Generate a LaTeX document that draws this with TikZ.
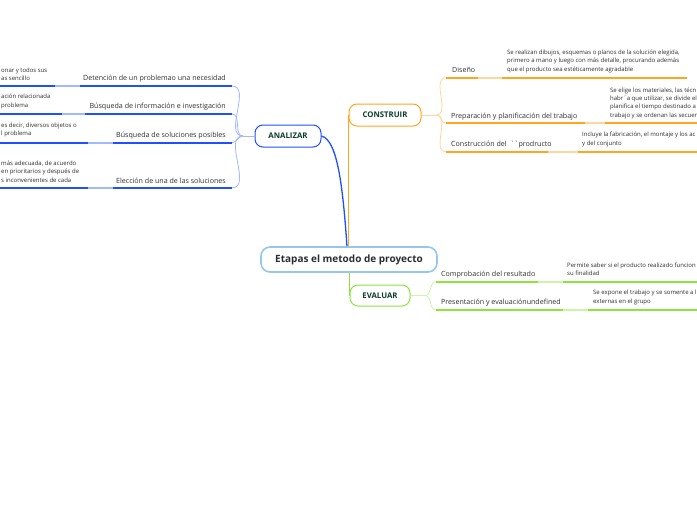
\documentclass[tikz,border=0pt]{standalone}
\usepackage{fontspec}
\setmainfont{Open Sans}
\definecolor{ablue}{RGB}{30,80,255}
\definecolor{ablueL}{RGB}{160,185,255}
\definecolor{corange}{RGB}{255,165,30}
\definecolor{corangeL}{RGB}{255,214,160}
\definecolor{egreen}{RGB}{140,228,60}
\definecolor{egreenL}{RGB}{205,245,165}
\definecolor{rootblue}{RGB}{150,198,235}
\definecolor{maintext}{RGB}{12,60,45}
\definecolor{topictext}{RGB}{45,45,45}

\begin{document}
\begin{tikzpicture}[x=1pt, y=-1pt,
   root/.style={rounded corners=9pt, draw=rootblue, line width=1.6pt, fill=white,
      minimum width=176pt, minimum height=25pt, text=topictext,
      font=\bfseries\fontsize{10}{11}\selectfont},
   mainnode/.style={rounded corners=8pt, line width=1pt, fill=white, minimum height=22pt,
      inner sep=0pt, text=maintext, font=\bfseries\fontsize{7.8}{9}\selectfont},
   topic/.style={inner sep=0pt, text=topictext, font=\fontsize{7.1}{8}\selectfont},
   note/.style={inner sep=0pt, align=left, anchor=south west, text=topictext,
      font=\fontsize{6}{8.4}\selectfont},
   trunk/.style={line width=1.3pt},
   branch/.style={line width=0.8pt},
   bluebar/.style={draw=ablue, line width=1.8pt},
   orangebar/.style={draw=corange, line width=1.8pt},
   greenbar/.style={draw=egreen, line width=1.8pt},
   bluegap/.style={draw=ablueL, line width=1.8pt},
   orangegap/.style={draw=corangeL, line width=1.8pt},
   greengap/.style={draw=egreenL, line width=1.8pt}]
\useasboundingbox (0,0) rectangle (697,520);

\node[root] (etapas) at (349,259.5) {Etapas el metodo de proyecto};

\node[mainnode, draw=ablue, minimum width=66pt] (analizar) at (288,136) {ANALIZAR};
\node[mainnode, draw=corange, minimum width=72pt] (construir) at (385,115) {CONSTRUIR};
\node[mainnode, draw=egreen, minimum width=60pt, minimum height=21pt] (evaluar) at (380,295.5) {EVALUAR};

% trunks
\draw[trunk, ablue] ([xshift=-2pt]etapas.north) .. controls (343,190) and (338,140) .. (analizar.east);
\draw[trunk, corange] (construir.west |- etapas.north) -- (construir.west);
\draw[trunk, egreen] (evaluar.west |- etapas.south) -- (evaluar.west);

% ANALIZAR
\node[topic, anchor=base east] (deteccion) at (226,80.5) {Detención de un problemao una necesidad};
\node[topic, anchor=base east] (busqinfo) at (226,108.7) {Búsqueda de información e investigación};
\node[topic, anchor=base east] (busqsol) at (226,137) {Búsqueda de soluciones posibles};
\node[topic, anchor=base east] (eleccion) at (226,183) {Elección de una de las soluciones};

\node[note] (ndeteccion) at (1,81) {onar y todos sus\\as sencillo};
\node[note] (nbusqinfo) at (1,109) {ación relacionada\\problema};
\node[note] (nbusqsol) at (1,137.5) {es decir, diversos objetos o\\l problema};
\node[note] (neleccion) at (1,182.5) {más adecuada, de acuerdo\\en prioritarios y después de\\s inconvenientes de cada};

\coordinate (anjoin) at (243,136);
\coordinate (det-a) at (232,86);   \coordinate (det-b) at (80,86);
\coordinate (det-c) at (55,86);    \coordinate (det-d) at (0,86);
\coordinate (inf-a) at (232,114);  \coordinate (inf-b) at (85,114);
\coordinate (inf-c) at (62,114);   \coordinate (inf-d) at (0,114);
\coordinate (sol-a) at (232,142.7); \coordinate (sol-b) at (113,142.7);
\coordinate (sol-c) at (88,142.7);  \coordinate (sol-d) at (0,142.7);
\coordinate (ele-a) at (232,187.7); \coordinate (ele-b) at (113,187.7);
\coordinate (ele-c) at (88,187.7);  \coordinate (ele-d) at (0,187.7);

\draw[ablueL, branch] (analizar.west) -- (anjoin);
\draw[ablueL, branch] (anjoin) to[out=180, in=0] (det-a);
\draw[ablueL, branch] (anjoin) to[out=180, in=0] (inf-a);
\draw[ablueL, branch] (anjoin) to[out=180, in=0] (sol-a);
\draw[ablueL, branch] (anjoin) to[out=180, in=0] (ele-a);
\path[bluebar] (det-a) -- (det-b);  \path[bluegap] (det-b) -- (det-c);  \path[bluebar] (det-c) -- (det-d);
\path[bluebar] (inf-a) -- (inf-b);  \path[bluegap] (inf-b) -- (inf-c);  \path[bluebar] (inf-c) -- (inf-d);
\path[bluebar] (sol-a) -- (sol-b);  \path[bluegap] (sol-b) -- (sol-c);  \path[bluebar] (sol-c) -- (sol-d);
\path[bluebar] (ele-a) -- (ele-b);  \path[bluegap] (ele-b) -- (ele-c);  \path[bluebar] (ele-c) -- (ele-d);

% CONSTRUIR
\node[topic, anchor=base west] (diseno) at (452,72.7) {Diseño};
\node[topic, anchor=base west] (preparacion) at (451,118.7) {Preparación y planificación del trabajo};
\node[topic, anchor=base west] (construccion) at (451,146.3) {Construcción del \ \textasciigrave\textasciigrave prodructo};

\node[note] (ndiseno) at (507,73) {Se realizan dibujos, esquemas o planos de la solución elegida,\\primero a mano y luego con más detalle, procurando además\\que el producto sea estéticamente agradable};
\node[note] (npreparacion) at (610,119) {Se elige los materiales, las técn\\habr´a que utilizar, se divide el t\\planifica el tiempo destinado a\\trabajo y se ordenan las secuen};
\node[note] (nconstruccion) at (582,147) {Incluye la fabricación, el montaje y los ac\\y del conjunto};

\coordinate (cojoin) at (436,115);
\coordinate (dis-a) at (446,77.7);  \coordinate (dis-b) at (478,77.7);
\coordinate (dis-c) at (502,77.7);  \coordinate (dis-d) at (687,77.7);
\coordinate (pre-a) at (446,123.3); \coordinate (pre-b) at (585,123.3);
\coordinate (pre-c) at (605,123.3); \coordinate (pre-d) at (697,123.3);
\coordinate (con-a) at (446,151.7); \coordinate (con-b) at (548,151.7);
\coordinate (con-c) at (578,151.7); \coordinate (con-d) at (697,151.7);

\draw[corangeL, branch] (construir.east) -- (cojoin);
\draw[corangeL, branch] (cojoin) to[out=0, in=180] (dis-a);
\draw[corangeL, branch] (cojoin) to[out=0, in=180] (pre-a);
\draw[corangeL, branch] (cojoin) to[out=0, in=180] (con-a);
\path[orangebar] (dis-a) -- (dis-b);  \path[orangegap] (dis-b) -- (dis-c);  \path[orangebar] (dis-c) -- (dis-d);
\path[orangebar] (pre-a) -- (pre-b);  \path[orangegap] (pre-b) -- (pre-c);  \path[orangebar] (pre-c) -- (pre-d);
\path[orangebar] (con-a) -- (con-b);  \path[orangegap] (con-b) -- (con-c);  \path[orangebar] (con-c) -- (con-d);

% EVALUAR
\node[topic, anchor=base west] (comprobacion) at (441,276.3) {Comprobación del resultado};
\node[topic, anchor=base west] (presentacion) at (441,304.7) {Presentación y evaluaciónundefined};

\node[note] (ncomprobacion) at (567,276) {Permite saber si el producto realizado funcion\\su finalidad};
\node[note] (npresentacion) at (593,305) {Se expone el trabajo y se somente a l\\externas en el grupo};

\coordinate (evjoin) at (425,295.5);
\coordinate (com-a) at (436,281.7); \coordinate (com-b) at (538,281.7);
\coordinate (com-c) at (563,281.7); \coordinate (com-d) at (697,281.7);
\coordinate (pres-a) at (436,310);  \coordinate (pres-b) at (563,310);
\coordinate (pres-c) at (588,310);  \coordinate (pres-d) at (697,310);

\draw[egreenL, branch] (evaluar.east) -- (evjoin);
\draw[egreenL, branch] (evjoin) to[out=0, in=180] (com-a);
\draw[egreenL, branch] (evjoin) to[out=0, in=180] (pres-a);
\path[greenbar] (com-a) -- (com-b);  \path[greengap] (com-b) -- (com-c);  \path[greenbar] (com-c) -- (com-d);
\path[greenbar] (pres-a) -- (pres-b);  \path[greengap] (pres-b) -- (pres-c);  \path[greenbar] (pres-c) -- (pres-d);

\end{tikzpicture}
\end{document}
